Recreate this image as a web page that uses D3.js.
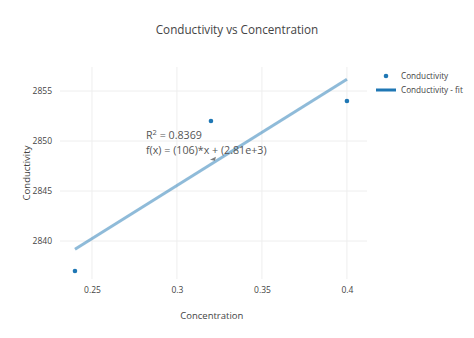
<!DOCTYPE html>
<html><head><meta charset="utf-8">
<script src="https://cdn.jsdelivr.net/npm/d3@7"></script>
<style>body{margin:0;background:#fff;} text{font-family:"Open Sans",sans-serif;}</style>
</head><body>
<svg id="c" width="474" height="338"></svg>
<script>
const concentration = [0.24, 0.32, 0.4];
const conductivity = [2837, 2852, 2854];
const fitX = [0.24, 0.4];
const fitSlope = 106.25;
const fitIntercept = 2813.667;
const xTicks = [0.25, 0.3, 0.35, 0.4];
const yTicks = [2840, 2845, 2850, 2855];
const seriesNames = ["Conductivity", "Conductivity - fit"];
const annotationLines = ["R² = 0.8369", "f(x) = (106)*x + (2.81e+3)"];

const svg = d3.select("#c");
const W = 474, H = 338;
const m = {l: 60, r: 107, t: 67, b: 59};
const x = d3.scaleLinear().domain([0.2312, 0.4118]).range([m.l, W - m.r]);
const y = d3.scaleLinear().domain([2836.2, 2857.4]).range([H - m.b, m.t]);

svg.append("rect").attr("width", W).attr("height", H).attr("fill", "#fff");

// grid
const g = svg.append("g");
g.selectAll(".vx").data(xTicks).join("line")
  .attr("x1", d => x(d)).attr("x2", d => x(d)).attr("y1", m.t).attr("y2", H - m.b)
  .attr("stroke", "#eee").attr("stroke-width", 1);
g.selectAll(".hy").data(yTicks).join("line")
  .attr("y1", d => y(d)).attr("y2", d => y(d)).attr("x1", m.l).attr("x2", W - m.r)
  .attr("stroke", "#eee").attr("stroke-width", 1);

// axes (labels only)
const xa = svg.append("g").attr("transform", `translate(0,${H - m.b})`)
  .call(d3.axisBottom(x).tickValues(xTicks).tickSize(0).tickPadding(8).tickFormat(d => String(d)));
const ya = svg.append("g").attr("transform", `translate(${m.l},0)`)
  .call(d3.axisLeft(y).tickValues(yTicks).tickSize(0).tickPadding(8).tickFormat(d => String(d)));
[xa, ya].forEach(a => {
  a.select(".domain").remove();
  a.selectAll("text").attr("fill", "#444").style("font-size", "8.5px").style("font-family", "'Open Sans',sans-serif");
});

// fit line
const line = d3.line().x(d => x(d)).y(d => y(fitSlope * d + fitIntercept));
svg.append("path").datum(fitX).attr("d", line)
  .attr("fill", "none").attr("stroke", "#1f77b4").attr("stroke-opacity", 0.5).attr("stroke-width", 3);

// points
svg.selectAll(".pt").data(concentration).join("circle")
  .attr("cx", d => x(d)).attr("cy", (d, i) => y(conductivity[i])).attr("r", 2.3)
  .attr("fill", "#1f77b4");

// annotation
const ax = x(0.32), ay = y(fitSlope * 0.32 + fitIntercept);
svg.append("path")
  .attr("d", `M${ax - 1},${ay - 4.5} l6,-3 l-1,4 z`)
  .attr("fill", "#666").attr("opacity", 0.85);
const at = svg.append("text").attr("fill", "#555").style("font-size", "10.7px");
at.append("tspan").attr("x", 146).attr("y", 139).text("R");
at.append("tspan").attr("dy", -4).style("font-size", "7.5px").text("2");
at.append("tspan").attr("dy", 4).text(" = 0.8369");
svg.append("text").attr("x", 146).attr("y", 154).attr("fill", "#555").style("font-size", "10.7px")
  .text(annotationLines[1]);

// title
svg.append("text").attr("x", W / 2).attr("y", 34).attr("text-anchor", "middle")
  .attr("fill", "#444").style("font-size", "11.7px").text("Conductivity vs Concentration");

// axis titles
svg.append("text").attr("x", x(0.3205)).attr("y", 319).attr("text-anchor", "middle")
  .attr("fill", "#444").style("font-size", "9.5px").text("Concentration");
svg.append("text").attr("transform", `translate(30,${(m.t + H - m.b) / 2}) rotate(-90)`)
  .attr("text-anchor", "middle").attr("fill", "#444").style("font-size", "9.5px").text("Conductivity");

// legend
const lg = svg.append("g");
lg.append("circle").attr("cx", 386).attr("cy", 76).attr("r", 2.3).attr("fill", "#1f77b4");
lg.append("line").attr("x1", 376).attr("x2", 396).attr("y1", 90).attr("y2", 90)
  .attr("stroke", "#1f77b4").attr("stroke-width", 3);
lg.selectAll(".lt").data(seriesNames).join("text")
  .attr("x", 401).attr("y", (d, i) => 79 + i * 14).attr("fill", "#444")
  .style("font-size", "8.2px").text(d => d);
</script>
</body></html>
